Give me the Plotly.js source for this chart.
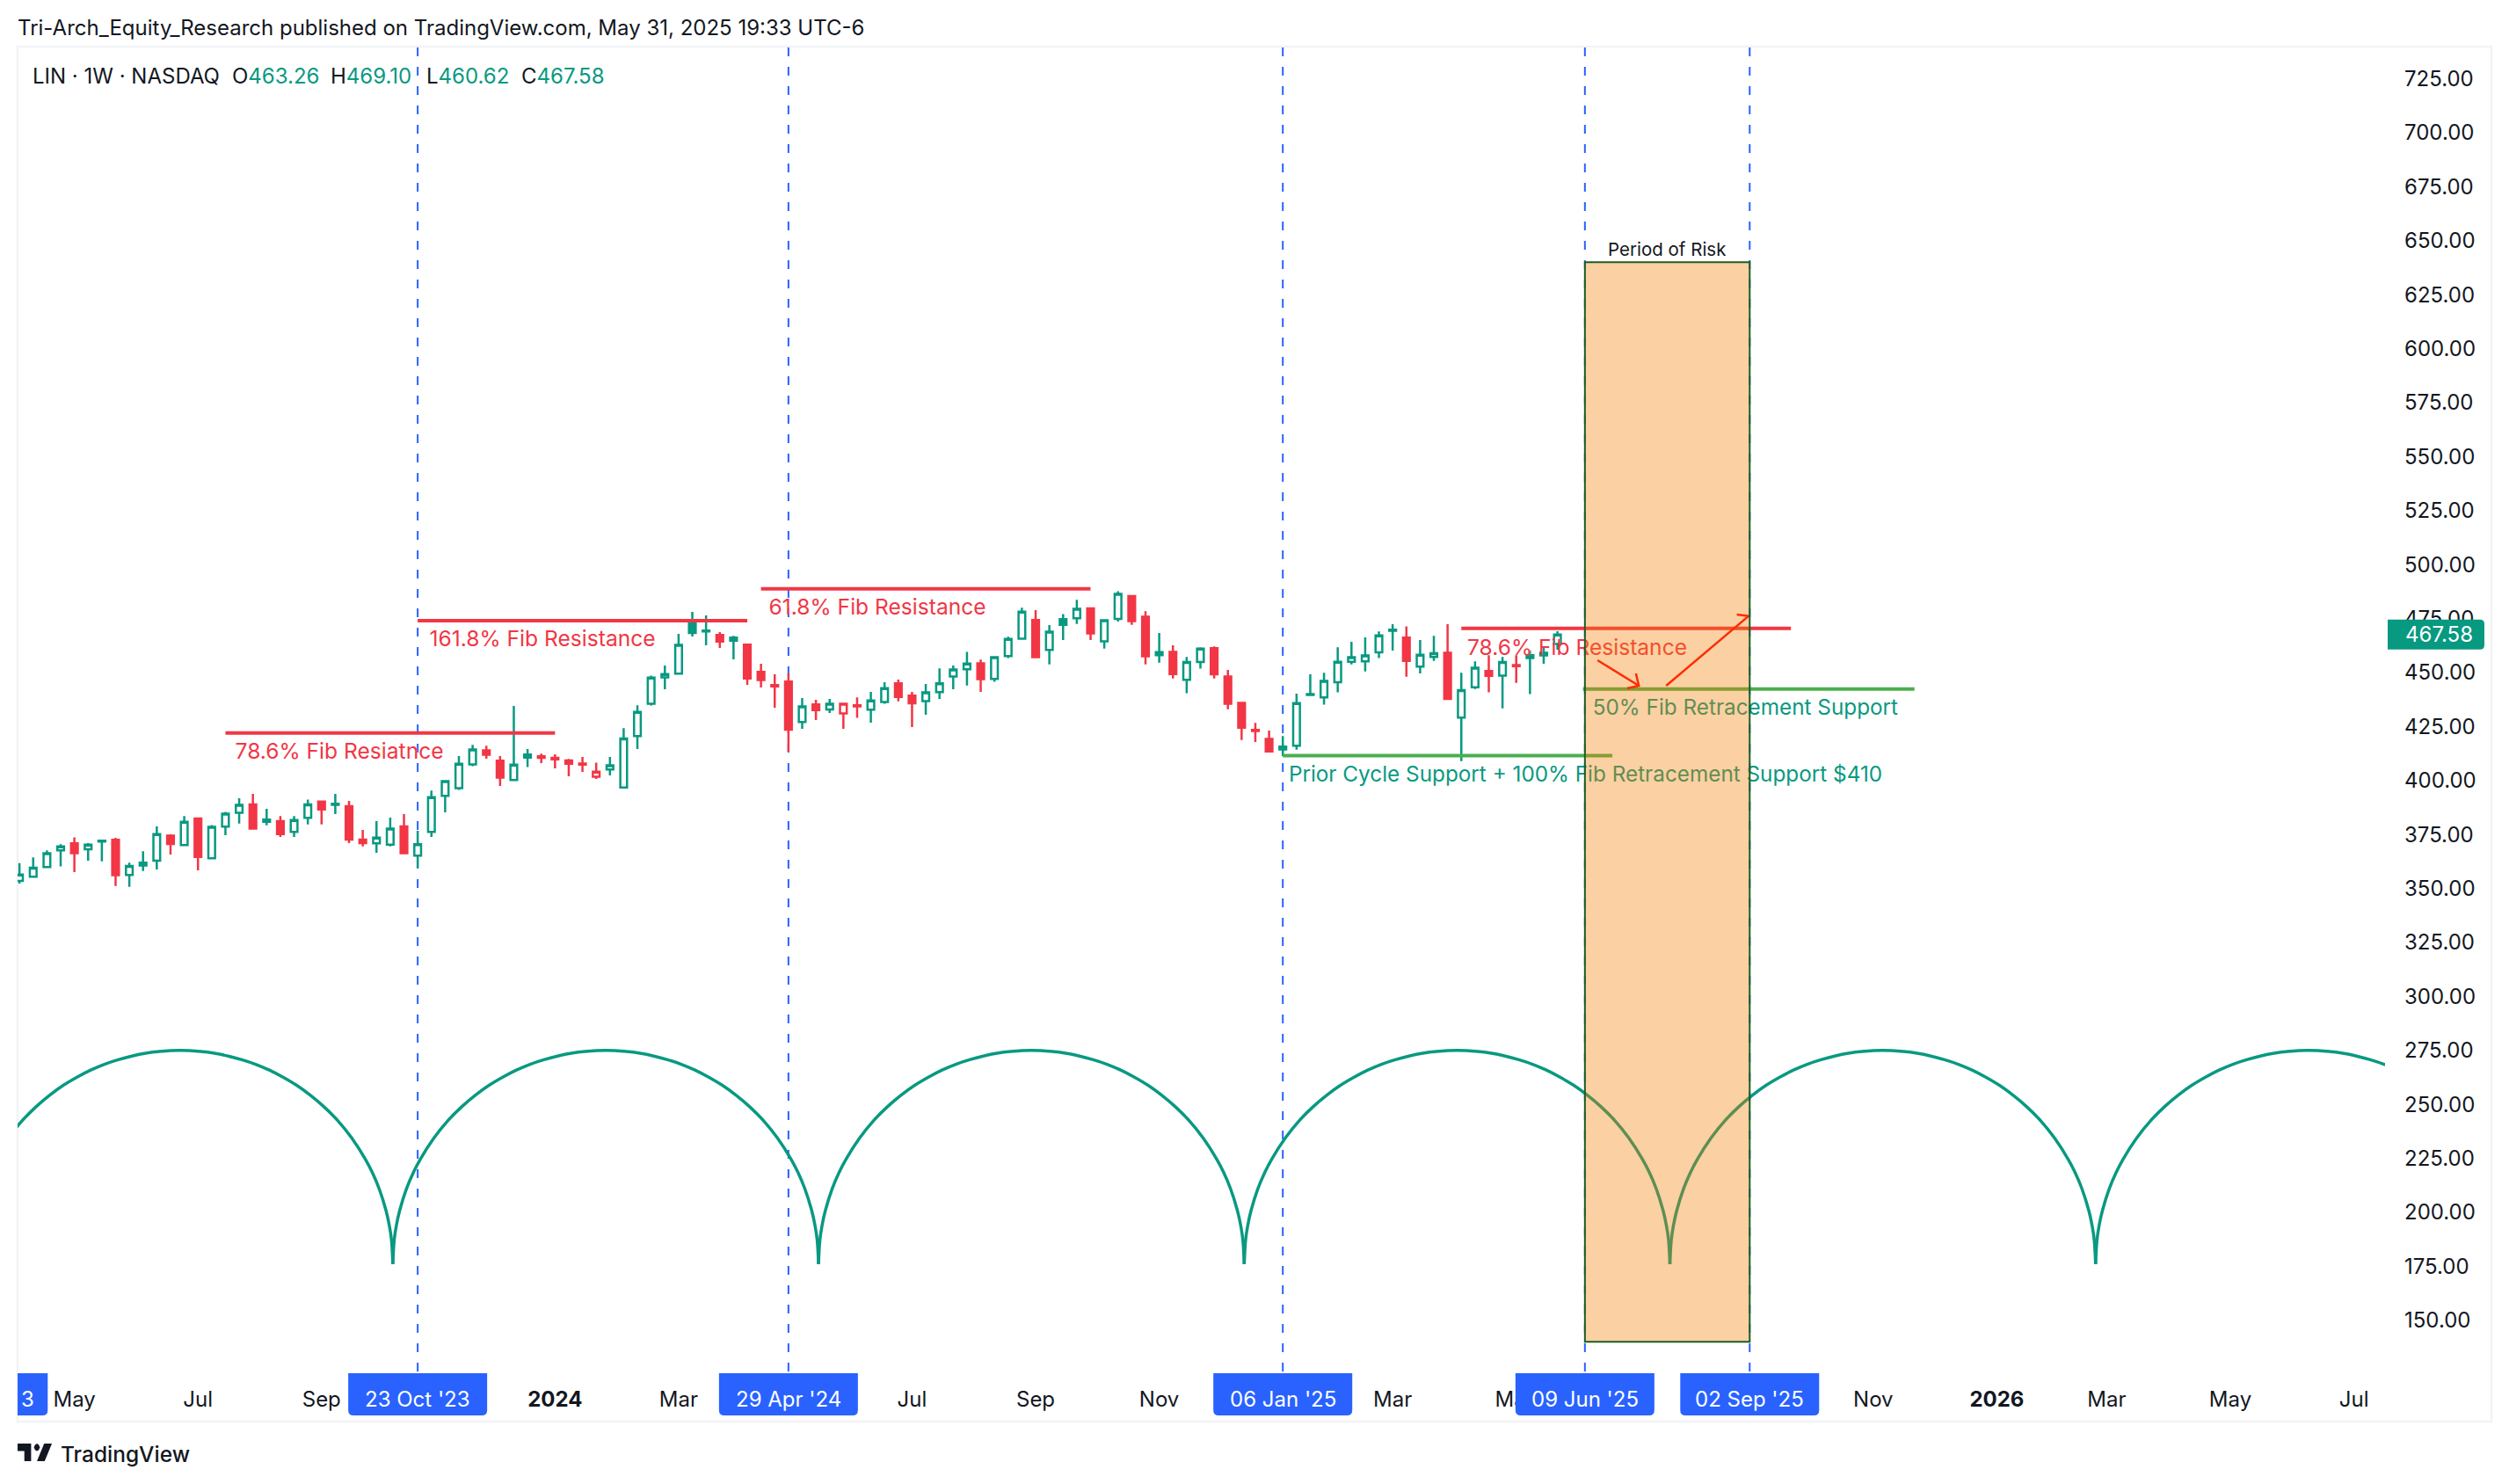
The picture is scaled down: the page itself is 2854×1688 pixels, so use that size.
<!DOCTYPE html>
<html>
<head>
<meta charset="utf-8">
<script src="https://cdn.plot.ly/plotly-3.0.1.min.js"></script>
<style>html,body{margin:0;padding:0;background:#fff}#chart{width:2854px;height:1688px}</style>
</head>
<body>
<div id="chart"></div>
<script>
const GREEN='#089981', RED='#f23645', BLUE='#2962ff', INK='#131722', LINE_GREEN='#4caf50';
const dates=['2023-04-03','2023-04-10','2023-04-17','2023-04-24','2023-05-01','2023-05-08','2023-05-15','2023-05-22','2023-05-29','2023-06-05','2023-06-12','2023-06-19','2023-06-26','2023-07-03','2023-07-10','2023-07-17','2023-07-24','2023-07-31','2023-08-07','2023-08-14','2023-08-21','2023-08-28','2023-09-04','2023-09-11','2023-09-18','2023-09-25','2023-10-02','2023-10-09','2023-10-16','2023-10-23','2023-10-30','2023-11-06','2023-11-13','2023-11-20','2023-11-27','2023-12-04','2023-12-11','2023-12-18','2023-12-25',
'2024-01-01','2024-01-08','2024-01-15','2024-01-22','2024-01-29','2024-02-05','2024-02-12','2024-02-19','2024-02-26','2024-03-04','2024-03-11','2024-03-18','2024-03-25','2024-04-01','2024-04-08','2024-04-15','2024-04-22','2024-04-29','2024-05-06','2024-05-13','2024-05-20','2024-05-27','2024-06-03','2024-06-10','2024-06-17','2024-06-24','2024-07-01','2024-07-08','2024-07-15','2024-07-22','2024-07-29','2024-08-05','2024-08-12','2024-08-19','2024-08-26','2024-09-02','2024-09-09','2024-09-16','2024-09-23','2024-09-30','2024-10-07','2024-10-14','2024-10-21','2024-10-28','2024-11-04','2024-11-11','2024-11-18','2024-11-25','2024-12-02','2024-12-09','2024-12-16','2024-12-23','2024-12-30',
'2025-01-06','2025-01-13','2025-01-20','2025-01-27','2025-02-03','2025-02-10','2025-02-17','2025-02-24','2025-03-03','2025-03-10','2025-03-17','2025-03-24','2025-03-31','2025-04-07','2025-04-14','2025-04-21','2025-04-28','2025-05-05','2025-05-12','2025-05-19','2025-05-26'];
const opens=[353.5,355.4,359.9,367.6,370.9,368.2,372.1,372.5,356.2,361.9,
362.9,374.5,370.1,382.4,364.0,378.6,385.1,388.9,381.9,381.2,
376.2,382.7,390.2,389.2,388.1,372.6,370.9,370.3,378.7,365.2,
376.2,392.9,396.5,407.5,414.0,409.2,400.2,412.0,411.2,410.5,
409.3,407.9,401.8,405.1,396.8,420.6,435.5,447.8,449.5,474.3,
469.4,467.4,466.2,462.9,450.3,444.2,445.8,427.1,435.2,432.9,
431.1,434.8,432.8,436.4,445.0,439.3,436.8,440.9,448.2,451.5,
454.3,447.0,457.6,465.7,474.3,460.5,474.7,475.1,479.7,464.5,
474.8,485.4,475.9,458.0,459.6,446.6,454.9,461.3,448.2,436.0,
423.4,419.3,415.7,416.1,440.0,438.5,445.5,455.0,455.2,459.4,
469.8,466.2,452.7,457.2,459.2,429.1,443.2,450.7,448.6,453.5,
458.0,459.2,463.26];
const highs=[361.7,364.4,367.6,370.5,373.7,371.0,372.6,373.5,361.9,367.2,
378.7,375.1,383.5,382.4,379.4,385.5,391.8,393.8,386.9,383.5,
383.5,391.2,390.2,393.8,390.6,377.1,381.2,382.8,384.4,376.7,
395.3,400.2,411.3,416.5,416.1,411.3,434.5,414.6,412.4,412.1,
410.0,410.9,408.3,410.9,424.2,434.8,448.6,453.3,467.9,478.1,
476.5,468.7,467.0,463.3,454.1,449.2,449.6,438.2,437.4,437.8,
436.0,438.5,441.0,445.5,446.7,441.0,444.7,451.9,453.3,459.6,
456.0,457.6,466.6,480.0,478.9,472.0,477.1,483.7,480.0,474.7,
487.7,485.7,478.4,468.3,462.6,457.2,461.7,462.1,451.2,436.0,
426.7,423.1,420.6,440.2,449.2,449.9,461.7,464.3,466.3,469.0,
472.4,471.4,465.1,467.0,472.4,449.9,455.2,458.0,457.2,458.0,
460.2,461.8,469.10];
const lows=[352.3,354.9,359.8,360.2,357.6,362.9,362.6,351.2,350.8,358.1,
358.8,365.7,370.1,358.4,363.8,374.7,380.1,377.7,379.3,373.9,
373.9,379.7,379.7,384.4,371.0,369.5,366.5,369.5,366.3,359.5,
373.9,385.3,395.6,406.6,410.1,397.5,400.2,406.2,408.1,405.6,
402.0,404.0,400.7,402.4,396.4,414.6,434.7,442.3,449.3,466.7,
462.6,461.4,456.1,444.3,443.1,433.7,413.4,423.9,428.0,431.3,
423.9,429.0,426.8,435.5,436.7,424.8,430.5,437.8,442.3,444.0,
441.0,445.7,456.7,465.6,456.7,453.8,465.1,472.5,465.1,461.1,
473.6,472.1,453.8,454.6,447.3,440.4,451.8,447.3,433.0,418.8,
417.8,413.5,411.3,414.3,439.6,435.1,440.8,453.8,450.5,456.7,
460.2,448.1,449.6,455.4,437.4,409.0,442.4,440.8,433.4,445.2,
440.0,454.1,460.62];
const closes=[356.5,359.6,366.3,369.5,366.3,370.3,371.7,356.1,360.4,360.6,
375.2,370.6,380.9,364.6,378.5,384.6,388.7,377.7,380.9,375.2,
381.7,388.9,386.6,388.7,372.6,371.0,373.6,377.7,366.3,370.5,
392.3,399.7,407.8,414.4,411.9,401.3,407.4,410.6,410.5,409.8,
407.8,407.4,404.1,407.0,419.5,431.8,447.7,449.3,462.8,468.3,
469.0,464.4,464.8,447.3,446.5,443.6,423.5,434.3,432.6,435.5,
435.5,434.3,437.1,442.8,438.7,435.8,440.8,445.0,451.4,454.2,
446.9,457.1,465.6,478.2,457.1,468.9,472.1,479.5,468.1,474.2,
486.4,473.8,457.5,459.5,449.3,454.9,461.1,449.2,435.5,424.5,
422.9,413.5,414.4,435.9,439.6,446.1,455.0,457.1,457.9,467.2,
469.3,455.4,458.2,459.0,437.8,441.9,452.2,448.5,454.9,453.0,
456.7,457.9,467.58];
const candleColors=['g','g','g','g','r','g','g','r','g','g',
'g','r','g','r','g','g','g','r','g','r',
'g','g','r','g','r','r','g','g','r','g',
'g','g','g','g','r','r','g','g','r','r',
'r','r','r','g','g','g','g','g','g','g',
'g','r','g','r','r','r','r','g','r','g',
'r','r','g','g','r','r','g','g','g','g',
'r','g','g','g','r','g','g','g','r','g',
'g','r','r','g','r','g','g','r','r','r',
'r','r','g','g','g','g','g','g','g','g',
'g','r','g','g','r','g','g','r','g','r',
'g','g','g'];
const priceTicks=[150,175,200,225,250,275,300,325,350,375,400,425,450,475,500,525,550,575,600,625,650,675,700,725];
const timeTicks=['2023-05-01','2023-07-03','2023-09-04','2024-01-01','2024-03-04','2024-07-01','2024-09-02','2024-11-04','2025-03-03','2025-05-05','2025-11-03','2026-01-05','2026-03-02','2026-05-04','2026-07-06'];
const timeLabels=['May','Jul','Sep','<b>2024</b>','Mar','Jul','Sep','Nov','Mar','May','Nov','<b>2026</b>','Mar','May','Jul'];
const cycleDates=['2023-10-23','2024-04-29','2025-01-06','2025-06-09','2025-09-01'];
const cycleLabels=["23 Oct '23","29 Apr '24","06 Jan '25","09 Jun '25","02 Sep '25"];
const resistStart=['2023-07-17','2023-10-23','2024-04-15','2025-04-07'];
const resistEnd=['2024-01-01','2024-04-08','2024-09-30','2025-09-22'];
const resistLevel=[422.0,474.0,488.8,470.5];
const resistText=['78.6% Fib Resiatnce','161.8% Fib Resistance','61.8% Fib Resistance','78.6% Fib Resistance'];
const resistTextDate=['2023-07-22','2023-10-29','2024-04-19','2025-04-10'];
const resistTextPrice=[412.6,464.6,479.4,460.8];
const supportStart=['2025-01-06','2025-06-08'];
const supportEnd=['2025-06-23','2025-11-24'];
const supportLevel=[411.5,442.4];
const supportText=['Prior Cycle Support + 100% Fib Retracement Support $410','50% Fib Retracement Support'];
const supportTextDate=['2025-01-09','2025-06-13'];
const supportTextPrice=[402.1,433.0];
const arrowDownX=['2025-06-15 10:00','2025-07-06 12:00',null,'2025-07-05','2025-07-06 12:00','2025-06-30 14:00'];
const arrowDownY=[455.7,443.9,null,449.6,443.9,442.7];
const arrowUpX=['2025-07-20 10:00','2025-08-31 12:00',null,'2025-08-25 10:00','2025-08-31 12:00'];
const arrowUpY=[443.9,476.2,null,476.9,476.2];
const arcCusps=['2023-03-07T08:00:00Z','2023-10-10T08:00:00Z','2024-05-14T08:00:00Z','2024-12-17T08:00:00Z','2025-07-22T08:00:00Z','2026-02-24T08:00:00Z'];
const arcWeeks=[0,0.1,0.25,0.5,1,1.5,2,3,4,5,6,7,8,9,10,11,12,13,14,15.5,17,18,19,20,21,22,23,24,25,26,27,28,29,29.5,30,30.5,30.75,30.9,31];
const arcPrice=[176,187.2,193.7,200.9,211,218.5,224.6,234.5,242.4,248.8,254.2,258.8,262.6,265.9,268.6,270.7,272.4,273.7,274.5,275,274.5,273.7,272.4,270.7,268.6,265.9,262.6,258.8,254.2,248.8,242.4,234.5,224.6,218.5,211,200.9,193.7,187.2,176];
const riskStart='2025-06-09', riskEnd='2025-09-01', riskTop=640, riskBottom=140;

const W=2854,H=1688,L=20,R=2713,T=54,B=1560;
const px=x=>(x-L)/(R-L), py=y=>(B-y)/(B-T);
const FONT='Inter, sans-serif';

function candleTrace(key,color){
  const idx=dates.map((d,i)=>i).filter(i=>candleColors[i]===key);
  return {type:'candlestick',x:idx.map(i=>dates[i]),open:idx.map(i=>opens[i]),high:idx.map(i=>highs[i]),low:idx.map(i=>lows[i]),close:idx.map(i=>closes[i]),
    increasing:{line:{color,width:2.5},fillcolor:'#ffffff'},decreasing:{line:{color,width:2.5},fillcolor:color},hoverinfo:'skip',showlegend:false};
}
const traces=[candleTrace('g',GREEN),candleTrace('r',RED)];
arcCusps.forEach(c=>{
  const t0=new Date(c).getTime();
  traces.push({type:'scatter',mode:'lines',x:arcWeeks.map(w=>new Date(t0+w*7*864e5).toISOString()),y:arcPrice,line:{color:GREEN,width:3.5,shape:'spline',smoothing:1},hoverinfo:'skip',showlegend:false});
});
resistLevel.forEach((v,i)=>traces.push({type:'scatter',mode:'lines',x:[resistStart[i],resistEnd[i]],y:[v,v],line:{color:RED,width:4},hoverinfo:'skip',showlegend:false}));
supportLevel.forEach((v,i)=>traces.push({type:'scatter',mode:'lines',x:[supportStart[i],supportEnd[i]],y:[v,v],line:{color:LINE_GREEN,width:4},hoverinfo:'skip',showlegend:false}));
traces.push({type:'scatter',mode:'lines',x:arrowDownX,y:arrowDownY,line:{color:'#ff0000',width:2.5},connectgaps:false,hoverinfo:'skip',showlegend:false});
traces.push({type:'scatter',mode:'lines',x:arrowUpX,y:arrowUpY,line:{color:'#ff0000',width:2.5},connectgaps:false,hoverinfo:'skip',showlegend:false});
traces.push({type:'scatter',mode:'text',x:resistTextDate,y:resistTextPrice,text:resistText,textposition:'middle right',textfont:{family:FONT,size:24.6,color:RED},hoverinfo:'skip',showlegend:false});
traces.push({type:'scatter',mode:'text',x:supportTextDate,y:supportTextPrice,text:supportText,textposition:'middle right',textfont:{family:FONT,size:24.3,color:GREEN},hoverinfo:'skip',showlegend:false});

const shapes=[];
shapes.push({type:'rect',xref:'paper',yref:'paper',x0:px(20),x1:px(2834),y0:py(1617),y1:py(53),line:{color:'#f2f3f5',width:2.5},layer:'below'});
cycleDates.forEach(d=>shapes.push({type:'line',xref:'x',yref:'paper',x0:d,x1:d,y0:0,y1:1,line:{color:BLUE,width:2,dash:'10px,12px'},layer:'below'}));
shapes.push({type:'rect',xref:'x',yref:'y',x0:riskStart,x1:riskEnd,y0:riskBottom,y1:riskTop,fillcolor:'rgba(245,124,0,0.36)',line:{color:'#1b5e20',width:2},layer:'above'});
const tagPath='M-79,-2 L79,-2 L79,-44 Q79,-50 73,-50 L-73,-50 Q-79,-50 -79,-44 Z';
['2023-03-13'].concat(cycleDates).forEach(d=>shapes.push({type:'path',xref:'x',yref:'paper',xsizemode:'pixel',ysizemode:'pixel',xanchor:d,yanchor:0,path:tagPath,fillcolor:BLUE,line:{width:0},layer:'above'}));
const last=closes.length-1;
shapes.push({type:'path',xref:'paper',yref:'y',xsizemode:'pixel',ysizemode:'pixel',xanchor:1,yanchor:closes[last],
  path:'M3,17 L108,17 Q113,17 113,12 L113,-12 Q113,-17 108,-17 L3,-17 Z',fillcolor:GREEN,line:{width:0},layer:'above'});
// logo
const lx=p=>px(20+p*1.1), ly=p=>py(1642+(p-6)*1.43);
const poly=pts=>'M'+pts.map(p=>lx(p[0])+' '+ly(p[1])).join(' L')+' Z';
[[[0,6],[14,6],[14,20],[7,20],[7,12],[0,12]],[[20,20],[28,20],[35.5,6],[27.5,6]],[[17,9],[18,7],[20,6],[22,7],[23,9],[22,11],[20,12],[18,11]]].forEach(pts=>
  shapes.push({type:'path',xref:'paper',yref:'paper',path:poly(pts),fillcolor:'#131722',line:{width:0},layer:'above'}));

const ann=(text,x,y,size,color,extra)=>Object.assign({text,xref:'paper',yref:'paper',x:px(x),y:py(y),xanchor:'left',yanchor:'middle',showarrow:false,font:{family:FONT,size,color}},extra||{});
const val=v=>'<span style="color:'+GREEN+'">'+v.toFixed(2)+'</span>';
const annotations=[
  ann('Tri-Arch_Equity_Research published on TradingView.com, May 31, 2025 19:33 UTC-6',18,31.5,24,INK),
  ann('LIN · 1W · NASDAQ',34.5,87,24,INK),
  ann('O'+val(opens[last]),261.5,87,24,INK),
  ann('H'+val(highs[last]),374,87,24,INK),
  ann('L'+val(lows[last]),483,87,24,INK),
  ann('C'+val(closes[last]),591,87,24,INK),
  ann('Period of Risk',1896,283,20.5,INK,{xanchor:'center'}),
  ann('TradingView',67,1654,24.5,INK,{font:{family:FONT,size:24.5,color:INK,weight:500}}),
  ann('3',22,1591,24,'#ffffff'),
  {text:closes[last].toFixed(2),xref:'paper',yref:'y',x:1,y:closes[last],xanchor:'right',xshift:101.5,yanchor:'middle',showarrow:false,font:{family:FONT,size:24,color:'#ffffff'}}
];
cycleLabels.forEach((t,i)=>annotations.push({text:t,xref:'x',yref:'paper',x:cycleDates[i],y:py(1591),xanchor:'center',yanchor:'middle',showarrow:false,font:{family:FONT,size:24,color:'#ffffff'}}));

const layout={width:W,height:H,margin:{l:L,r:W-R,t:T,b:H-B,pad:0},paper_bgcolor:'#fff',plot_bgcolor:'#fff',showlegend:false,dragmode:false,
  xaxis:{type:'date',range:['2023-04-02 01:00','2026-07-21 21:00'],rangeslider:{visible:false},tickmode:'array',tickvals:timeTicks,ticktext:timeLabels,showgrid:false,zeroline:false,showline:false,ticks:'',ticklabelstandoff:15,tickangle:0,tickfont:{family:FONT,size:24,color:INK}},
  yaxis:{side:'right',range:[126.3,739.5],tickmode:'array',tickvals:priceTicks,tickformat:'.2f',showgrid:false,zeroline:false,showline:false,ticks:'',ticklabelstandoff:21,tickfont:{family:FONT,size:24,color:INK}},
  shapes,annotations,hovermode:false};
Plotly.newPlot('chart',traces,layout,{staticPlot:true,displayModeBar:false});
</script>
</body>
</html>
